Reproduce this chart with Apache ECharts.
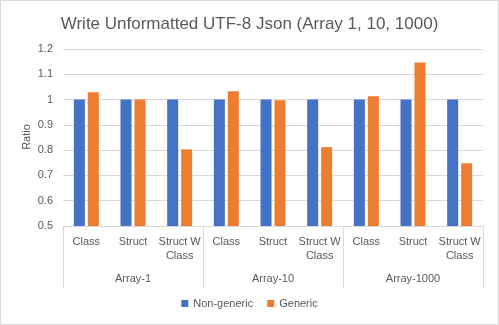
<!DOCTYPE html>
<html><head><meta charset="utf-8">
<script src="https://cdn.jsdelivr.net/npm/echarts@6/dist/echarts.min.js"></script>
<style>html,body{margin:0;padding:0;background:#fff}#c{width:499px;height:325px}</style>
</head><body><div id="c"></div>
<script>
const groups = ['Array-1', 'Array-10', 'Array-1000'];
const subCategories = ['Class', 'Struct', 'Struct W\nClass', 'Class', 'Struct', 'Struct W\nClass', 'Class', 'Struct', 'Struct W\nClass'];
const nonGeneric = [1, 1, 1, 1, 1, 1, 1, 1, 1];
const generic = [1.029, 1.0, 0.803, 1.033, 0.997, 0.812, 1.013, 1.147, 0.748];
const seriesNames = ['Non-generic', 'Generic'];
const yTicks = {min: 0.5, max: 1.2, interval: 0.1};
const yAxisTitle = 'Ratio';

const txt = '#595959';
const font = 'Liberation Sans';
const chart = echarts.init(document.getElementById('c'));
chart.setOption({
  animation: false,
  textStyle: {fontFamily: font},
  title: {text: 'Write Unformatted UTF-8 Json (Array 1, 10, 1000)', left: 'center', top: 11,
    textStyle: {fontFamily: font, fontSize: 17, fontWeight: 'normal', color: txt}},
  graphic: [
    {type: 'rect', shape: {x: 0.5, y: 0.5, width: 498, height: 324},
      style: {fill: 'none', stroke: '#d9d9d9', lineWidth: 1}, silent: true},
    {type: 'text', x: 27, y: 137, rotation: Math.PI / 2,
      style: {text: yAxisTitle, fill: txt, font: '11px "Liberation Sans"', align: 'center', verticalAlign: 'middle'}, silent: true}
  ],
  legend: {data: seriesNames, bottom: 11, left: 'center', itemWidth: 7, itemHeight: 7, itemGap: 14,
    icon: 'rect', textStyle: {fontFamily: font, fontSize: 11, color: txt}},
  grid: {left: 63, right: 16, top: 49, bottom: 99},
  xAxis: [
    {type: 'category', data: subCategories, position: 'bottom',
      axisLine: {lineStyle: {color: '#d9d9d9'}}, axisTick: {show: false},
      axisLabel: {interval: 0, color: txt, fontSize: 11, margin: 9, lineHeight: 14}},
    {type: 'category', data: groups, position: 'bottom',
      axisLine: {show: false},
      axisTick: {show: true, length: 62, lineStyle: {color: '#d9d9d9'}},
      axisLabel: {interval: 0, color: txt, fontSize: 11, margin: 47}}
  ],
  yAxis: {type: 'value', min: yTicks.min, max: yTicks.max, interval: yTicks.interval,
    axisLine: {show: false}, axisTick: {show: false},
    axisLabel: {color: txt, fontSize: 11, margin: 10},
    splitLine: {lineStyle: {color: '#d9d9d9'}}},
  series: [
    {name: seriesNames[0], type: 'bar', data: nonGeneric, barWidth: 11, barGap: '27%', itemStyle: {color: '#4472C4'}},
    {name: seriesNames[1], type: 'bar', data: generic, barWidth: 11, barGap: '27%', itemStyle: {color: '#ED7D31'}}
  ]
});
</script></body></html>
